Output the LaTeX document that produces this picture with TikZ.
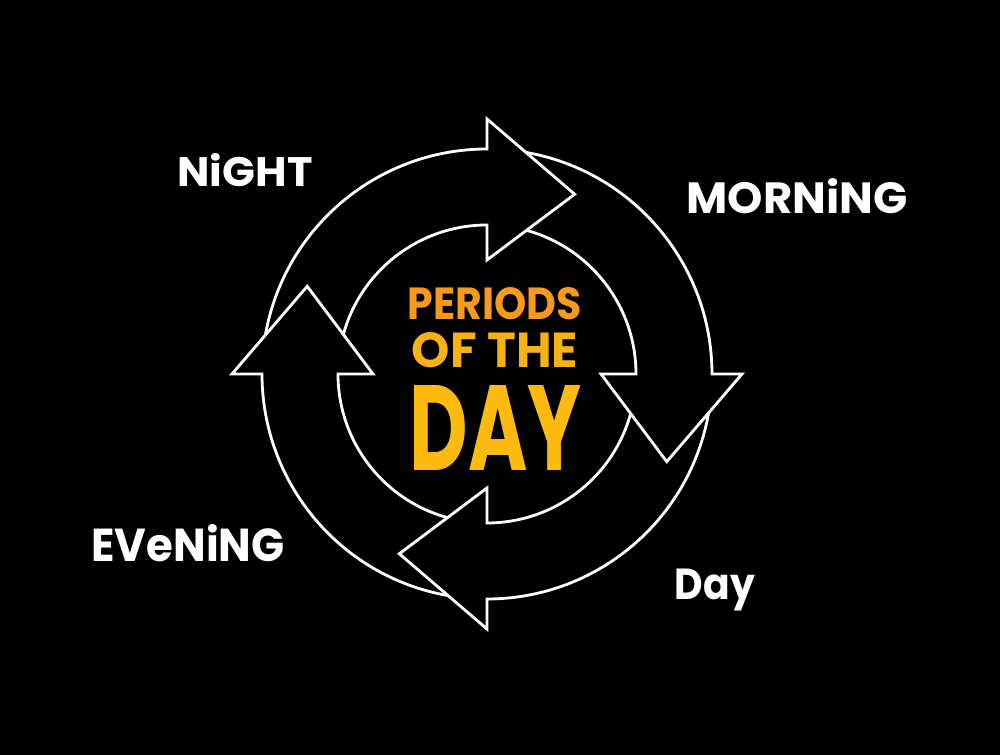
\documentclass[tikz,border=0pt]{standalone}
\usepackage{fontspec}
\setmainfont{Poppins}
\usepackage{graphicx}
\definecolor{orangetop}{HTML}{F79A1C}
\definecolor{orangemid}{HTML}{FAB114}
\definecolor{orangelow}{HTML}{FDBB10}
\newcommand{\fitbox}[3]{\resizebox{#1mm}{#2mm}{\bfseries #3}}
\begin{document}
\begin{tikzpicture}[x=0.2mm, y=0.2mm]
		\tikzset{ring/.style={draw=white, line width=1.6pt, line join=miter},
		every node/.style={inner sep=0pt, text=white}}
\fill[black] (-487,-381) rectangle (513,374);
\useasboundingbox (-487,-381) rectangle (513,374);

% four arrows round the ring, head base at \b
\foreach \b in {90,0,-90,180}
{
	\draw[ring] (\b+80:225) arc[start angle=\b+80, end angle=\b, radius=225]
		-- (\b:255) -- (\b-26:200) -- (\b:114) -- (\b:149)
		arc[start angle=\b, end angle=\b+74.6, radius=149];
}

\node (night) at (-242,204) {\fitbox{27}{6.6}{NiGHT}};
\node (morning) at (310,178) {\fitbox{44.2}{7}{MORNiNG}};
\node (evening) at (-299,-169) {\fitbox{38.6}{7.4}{EVeNiNG}};
\node (day) at (228,-216) {\resizebox*{16mm}{8.4mm}{\bfseries Day}};

\node[text=orangetop] (periods) at (8,70) {\fitbox{34.8}{6.4}{PERIODS}};
\node[text=orangemid] (ofthe) at (8,24) {\fitbox{33.2}{7}{OF THE}};
\node[text=orangelow] (title) at (9,-54) {\fitbox{34.4}{17}{DAY}};

		\end{tikzpicture}
\end{document}
